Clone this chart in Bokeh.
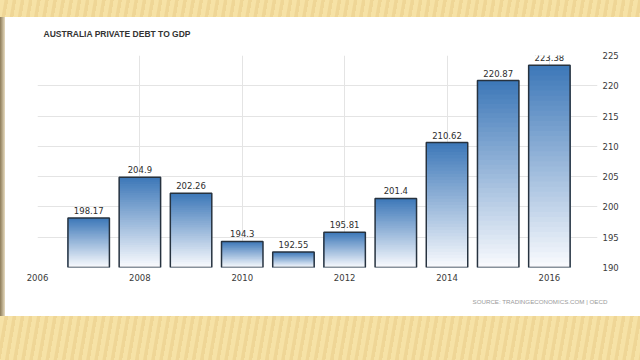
from bokeh.plotting import figure
from bokeh.models import ColumnDataSource, FixedTicker, Range1d, Title, Div
from bokeh.layouts import column, row
from bokeh.core.properties import value
from bokeh.embed import file_html
from bokeh.resources import INLINE

# ---- data ----
years = [2007, 2008, 2009, 2010, 2011, 2012, 2013, 2014, 2015, 2016]
debt_to_gdp = [198.17, 204.9, 202.26, 194.3, 192.55, 195.81, 201.4, 210.62, 220.87, 223.38]
x_ticks = [2006, 2008, 2010, 2012, 2014, 2016]
y_ticks = [190, 195, 200, 205, 210, 215, 220, 225]

Y_BASE = 190
BAR_W = 0.81
TOP_RGB = (60, 119, 184)
BOT_RGB = (250, 251, 254)

def mix(f):
    r = [round(BOT_RGB[k] + (TOP_RGB[k] - BOT_RGB[k]) * f) for k in range(3)]
    return "#%02x%02x%02x" % tuple(r)

p = figure(width=635, height=299,
           x_range=Range1d(2006, 2016.94), y_range=Range1d(190, 225),
           output_backend="svg", toolbar_location=None,
           y_axis_location="right",
           min_border_left=32, min_border_right=43,
           min_border_top=38, min_border_bottom=48,
           border_fill_color="white", background_fill_color="white",
           outline_line_color=None)
p.title_location = None

# gradient bars: overlapping layers, each shorter and lighter
N = 40
for j in range(N):
    f = (N - j) / N
    src = ColumnDataSource(dict(
        x=years,
        top=[Y_BASE + (v - Y_BASE) * f for v in debt_to_gdp],
    ))
    p.vbar(x="x", top="top", bottom=Y_BASE, width=BAR_W, source=src,
           fill_color=mix(f - 0.5 / N), line_color=None)

bars = ColumnDataSource(dict(x=years, top=debt_to_gdp,
                             label=[str(v) for v in debt_to_gdp]))
p.vbar(x="x", top="top", bottom=Y_BASE, width=BAR_W, source=bars,
       fill_color=None, line_color="#26323f", line_width=1.5)
p.text(x="x", y="top", text="label", source=bars,
       text_align="center", text_baseline="bottom", y_offset=-4,
       text_font=value("DejaVu Sans"), text_font_size="8.5px",
       text_color="#2e2e2e")

# grids
p.xgrid.ticker = FixedTicker(ticks=x_ticks)
p.ygrid.ticker = FixedTicker(ticks=y_ticks)
for g in (p.xgrid[0], p.ygrid[0]):
    g.grid_line_color = "#e4e4e4"
    g.grid_line_width = 1

# axes
p.xaxis.ticker = FixedTicker(ticks=x_ticks)
p.yaxis.ticker = FixedTicker(ticks=y_ticks)
for ax in (p.xaxis[0], p.yaxis[0]):
    ax.axis_line_color = None
    ax.major_tick_line_color = None
    ax.minor_tick_line_color = None
    ax.major_tick_out = 0
    ax.major_tick_in = 0
    ax.minor_tick_out = 0
    ax.minor_tick_in = 0
    ax.major_label_text_font = "DejaVu Sans"
    ax.major_label_text_font_size = "8.5px"
    ax.major_label_text_color = "#3a3a3a"
p.xaxis.major_label_standoff = 6
p.yaxis.major_label_standoff = 5

# title (with an empty spacer between it and the frame)
spacer = Title(text=" ", text_font_size="13px", standoff=0)
p.add_layout(spacer, "above")
main_title = Title(text="AUSTRALIA PRIVATE DEBT TO GDP", align="left", offset=6,
                   text_font="Liberation Sans", text_font_size="8.5px",
                   text_font_style="bold", text_color="#333333", standoff=0)
p.add_layout(main_title, "above")

src_title = Title(text="SOURCE: TRADINGECONOMICS.COM | OECD", align="right",
                  text_font="Liberation Sans", text_font_size="6.2px",
                  text_font_style="normal", text_color="#9a9a9a", offset=-10,
                  standoff=24)
p.add_layout(src_title, "below")

stripes = ("repeating-linear-gradient(100deg, #f6e2a6 0px, #f6e2a6 4px, "
           "#efd696 5px, #efd696 8px)")
top_band = Div(text="", width=640, height=17, margin=0,
               styles={"background": stripes})
bottom_band = Div(text="", width=640, height=44, margin=0,
                  styles={"background": stripes})
left_strip = Div(text="", width=5, height=299, margin=0,
                 styles={"background": "linear-gradient(90deg, #8c7b58, #e8dcc0)"})

layout = column(top_band, row(left_strip, p, spacing=0), bottom_band, spacing=0)

open("out.html", "w").write(file_html(layout, INLINE))
